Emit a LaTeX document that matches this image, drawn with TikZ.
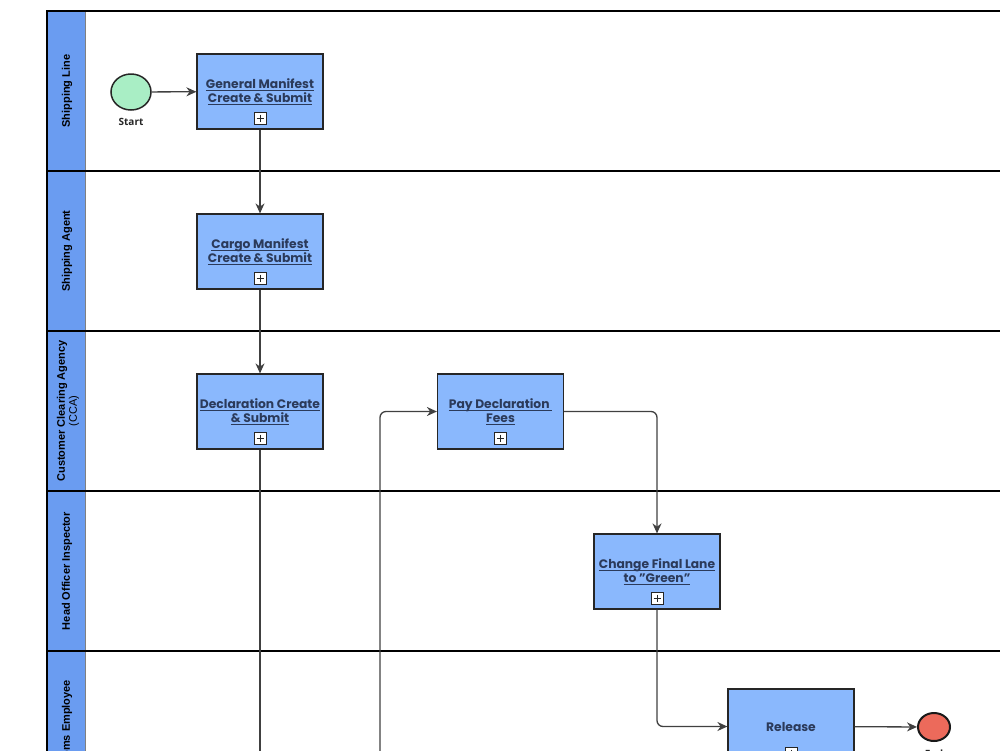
\documentclass[tikz,border=0pt]{standalone}
\usepackage{fontspec}
\setmainfont{Poppins}
\newfontfamily\couloirfont{Liberation Sans}
\newfontfamily\etiquettefont{Open Sans}
\usetikzlibrary{positioning,arrows.meta,shapes.geometric}
\definecolor{entete}{HTML}{6A9CF1}
\definecolor{bleutache}{HTML}{8AB8FD}
\definecolor{encre}{HTML}{2B3A5A}
\definecolor{vertdebut}{HTML}{A9EEC5}
\definecolor{rougefin}{HTML}{EC6A5B}
\newcommand{\souligne}[1]{\underline{\smash{#1}}\vphantom{#1}}
\tikzset{
  tache/.style={draw=black!85, line width=1.2pt, fill=bleutache, minimum width=126pt,
    minimum height=75pt, inner sep=0pt, align=center, text=encre,
    font=\fontsize{12.3}{14}\selectfont\bfseries},
  plus/.style={draw=black!85, line width=0.8pt, fill=white, minimum size=12pt, inner sep=0pt,
    path picture={\draw[line width=0.9pt] ([yshift=-2.5pt]path picture bounding box.north) -- ([yshift=2.5pt]path picture bounding box.south)
      ([xshift=2.5pt]path picture bounding box.west) -- ([xshift=-2.5pt]path picture bounding box.east);}},
  couloir/.style={rotate=90, align=center, font=\couloirfont\fontsize{11}{12}\selectfont},
  fleche/.style={-{Stealth[length=10pt,width=9pt]}, line width=1.3pt, draw=black!75, rounded corners=6pt},
}
\begin{document}
\begin{tikzpicture}[x=1pt,y=-1pt]
	\useasboundingbox (0,0) rectangle (1000,750);
	\clip (0,0) rectangle (1000,750);
	% Couloirs
	\fill[entete] (47,11) rectangle (85,820);
	\draw[black!50, line width=0.8pt] (85,11) -- (85,820);
	\foreach \y in {171,331,491,651}
		\draw[line width=2pt] (47,\y) -- (1010,\y);
	\draw[line width=2pt] (47,820) -- (47,11) -- (1010,11);
	
	\node[couloir] (ligne) at (67,91) {\bfseries Shipping Line};
	\node[couloir] (agent) at (67,251) {\bfseries Shipping Agent};
	\node[couloir] (agence) at (68,411) {\bfseries Customer Clearing Agency\\(CCA)};
	\node[couloir] (inspecteur) at (67,571) {\bfseries Head Officer Inspector};
	\node[couloir] (employe) at (67,731) {\bfseries Customs Employee};
	
	% Evenements
	\node[ellipse, draw=black!85, line width=1.5pt, fill=vertdebut, minimum width=40pt, minimum height=36pt,
		label={[label distance=4pt, font=\etiquettefont\fontsize{10}{11}\selectfont\bfseries, text=black!85]below:Start}] (debut) at (131,92) {};
	\node[ellipse, draw=black!90, line width=2pt, fill=rougefin, minimum width=32pt, minimum height=28pt,
		label={[label distance=4pt, font=\etiquettefont\fontsize{10}{11}\selectfont\bfseries, text=black!85]below:End}] (fin) at (934,727) {};
	
	% Taches
	\node[tache] (manifeste) at (260,91.5) {\souligne{General Manifest}\\\souligne{Create \& Submit}};
	\node[tache] (cargaison) at (260,251.5) {\souligne{Cargo Manifest}\\\souligne{Create \& Submit}};
	\node[tache] (declaration) at (260,411.5) {\souligne{Declaration Create}\\\souligne{\& Submit}};
	\node[tache] (paiement) at (500.5,411.5) {\souligne{Pay Declaration }\\\souligne{Fees}};
	\node[tache] (voie) at (657,571.5) {\souligne{Change Final Lane}\\\souligne{to "Green"}};
	\node[tache] (liberation) at (791,726.5) {Release};
	\foreach \t in {manifeste,cargaison,declaration,paiement,voie,liberation}
		\node[plus, above=5pt of \t.south] (plus-\t) {};
	
	\coordinate (bas1) at (260,820);
	\coordinate (bas2) at (380,820);
	
	% Liens
	\draw[fleche] (debut) -- (manifeste);
	\draw[fleche] (manifeste) -- (cargaison);
	\draw[fleche] (cargaison) -- (declaration);
	\draw[fleche] (declaration) -- (bas1);
	\draw[fleche] (bas2) |- (paiement);
	\draw[fleche] (paiement) -| (voie);
	\draw[fleche] (voie) |- (liberation);
	\draw[fleche] (liberation) -- (fin);
\end{tikzpicture}
\end{document}
